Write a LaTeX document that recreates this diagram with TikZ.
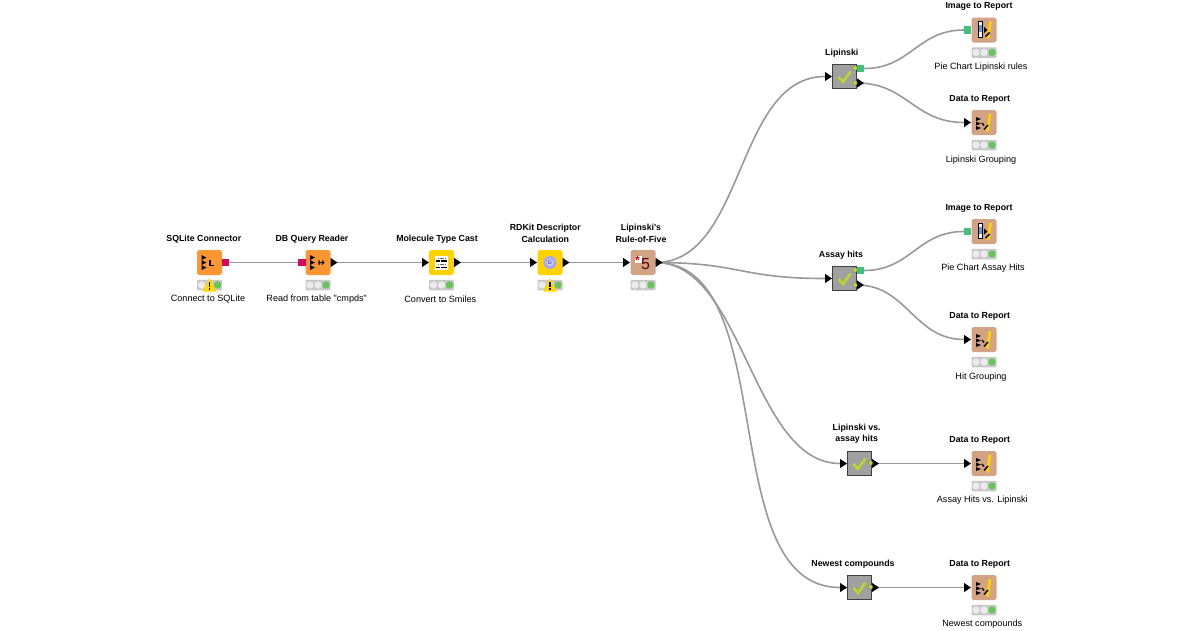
\documentclass[tikz,border=0pt]{standalone}
\usepackage{fontspec}
\usetikzlibrary{backgrounds,calc}
\newfontfamily\labfont{Liberation Sans}
\definecolor{kgray}{HTML}{999999}
\definecolor{korange}{HTML}{FF9632}
\definecolor{kyellow}{HTML}{FFD200}
\definecolor{ktan}{HTML}{D2A384}
\definecolor{kmeta}{HTML}{A0A0A0}
\definecolor{kred}{HTML}{D10A5C}
\definecolor{kgreen}{HTML}{43C07F}
\definecolor{klime}{HTML}{C4D92E}
\definecolor{kcheck}{HTML}{B7D52C}
\definecolor{ktl}{HTML}{C8C8C8}
\definecolor{kok}{HTML}{69C35C}
\definecolor{kwarn}{HTML}{FFD800}
\tikzset{
  x=1pt,y=-1pt,
  ttl/.style={font=\labfont\bfseries\fontsize{8.8}{11.7}\selectfont,align=center,inner sep=0pt,text=black,yshift=-0.5pt},
  sub/.style={font=\labfont\fontsize{9.1}{11.7}\selectfont,align=center,inner sep=0pt,text=black,yshift=-0.5pt},
  icon/.style={minimum size=25pt,inner sep=0pt,rounded corners=1.8pt,draw=none},
  meta/.style={minimum size=24pt,inner sep=0pt,fill=kmeta,draw=black!75,line width=1pt},
  sqport/.style={minimum size=7.2pt,inner sep=0pt,draw=none},
  wire/.style={draw=kgray,line width=1.6pt,line cap=round},
  tlbar/.style={minimum width=25pt,minimum height=10.5pt,inner sep=0pt,fill=ktl,rounded corners=1pt},
  tlamp/.style={circle,minimum size=7.4pt,inner sep=0pt,fill=#1},
}
% triangular data port whose base is at (#1,#2)
\newcommand{\kport}[3]{\coordinate (#3) at (#1,#2);\fill[black] (#1,#2-4.6) -- (#1+7,#2) -- (#1,#2+4.6) -- cycle;}
% node body with status lights
\newcommand{\knode}[5]{%
  \node[icon,fill=#4] (#1) at (#2,#3) {};
  \node[tlbar] (#1-tl) at (#2,#3+22.5) {};
  \node[tlamp=white!92!black] (#1-a) at (#2-8,#3+22.5) {};
  \node[tlamp=white!92!black] (#1-b) at (#2,#3+22.5) {};
  \node[tlamp=kok] (#1-c) at (#2+8,#3+22.5) {};
  \begin{scope}[shift={(#2,#3)}]#5\end{scope}}
\newcommand{\kmeta}[3]{%
  \node[meta] (#1) at (#2,#3) {};
  \draw[kcheck,line width=2.6pt] (#2-6,#3+0.5) -- (#2-1.5,#3+5.5) -- (#2+6,#3-5);}
\newcommand{\kwarn}[2]{%
  \fill[kwarn,rounded corners=0.8pt] (#1-7,#2+6.5) -- (#1,#2-7) -- (#1+7,#2+6.5) -- cycle;
  \fill[black] (#1-0.9,#2-3) rectangle (#1+0.9,#2+2);
  \fill[black] (#1-0.9,#2+3) rectangle (#1+0.9,#2+4.8);}
\newcommand{\kbits}{%
  \fill[black] (-8,-7.5) -- (-3,-5) -- (-8,-2.5) -- cycle;
  \fill[black] (-8,-2.5) -- (-3,0) -- (-8,2.5) -- cycle;
  \fill[black] (-8,2.5) -- (-3,5) -- (-8,7.5) -- cycle;}
\newcommand{\kreport}{%
  \fill[black] (-8,-5.5) -- (-3,-3.5) -- (-8,-1.5) -- cycle;
  \fill[black] (-8,-1) -- (-3,1) -- (-8,3) -- cycle;
  \fill[black] (-8,3.5) -- (-3,5.5) -- (-8,7.5) -- cycle;
  \draw[kyellow,line width=2.8pt] (3.5,9) -- (6,-8.5);
  \draw[black,line width=1.4pt] (-2,0.5) -- (0,3) (0,7) -- (4,2.5);}
\newcommand{\kimgrep}{%
  \fill[black] (-6.5,-9) rectangle (-1,7.5);
  \fill[white] (-5.5,-8) rectangle (-2,6.5);
  \fill[cyan!70!blue!70] (-5.5,-5) rectangle (-2,2);
  \fill[black] (0,-3) -- (3.5,0) -- (0,3) -- cycle;
  \draw[kyellow,line width=2.8pt] (4,8.5) -- (6.5,-8.5);
  \draw[black,line width=1.4pt] (1.5,6.5) -- (5.5,2.5);}
\begin{document}
\begin{tikzpicture}
\useasboundingbox (0,0) rectangle (1200,630);
% ---------- nodes
\knode{sql}{209.5}{262.5}{korange}{\kbits
  \draw[black,line width=1.3pt] (0.5,-3) -- (0.5,3.2) -- (4.5,3.2);}
\node[sqport,fill=kred] (sqlout) at (225.6,262.5) {};
\kwarn{209.5}{285}

\knode{dbq}{318}{262.5}{korange}{\kbits
  \draw[black,line width=1pt] (0,0) -- (6,0) (4,-2) -- (6,0) -- (4,2) (1,-2.5) -- (1,2.5);}
\node[sqport,fill=kred] (dbqin) at (301.9,262.5) {};
\kport{330.5}{262.5}{dbqout}

\knode{mol}{441.5}{262.5}{kyellow}{
  \fill[white] (-6.5,-7) rectangle (6.5,7);
  \draw[black,line width=1.1pt] (-5.5,-1.5) -- (-2,-1.5) (-1,-1.5) -- (5.5,-1.5) (-5.5,5) -- (-2,5) (-1,5) -- (5.5,5);
  \draw[black!60,line width=.8pt,dash pattern=on 1.6pt off 0.8pt] (-4,-4) -- (5,-4) (-4,2) -- (5,2);}
\kport{422}{262.5}{molin}
\kport{454}{262.5}{molout}

\knode{rdk}{550}{262.5}{kyellow}{
  \fill[blue!35!white] (0,0) circle (6.5pt);
  \fill[white!80!blue] (0,0) circle (3.6pt);
  \node[inner sep=0pt,font=\labfont\fontsize{5}{5}\selectfont,text=blue!60!black] (rdk-d) at (0,0) {D};}
\kport{530}{262.5}{rdkin}
\kport{562.5}{262.5}{rdkout}
\kwarn{550}{285}

\knode{lip}{643}{262.5}{ktan}{
  \fill[white] (-8,-7) rectangle (-1,0);
  \node[inner sep=0pt,font=\labfont\fontsize{16}{16}\selectfont,text=black!65!red] (lip-5) at (2.5,1.5) {5};
  \node[inner sep=0pt,font=\labfont\bfseries\fontsize{12}{12}\selectfont,text=red!85!black] (lip-s) at (-5.5,-2.5) {*};}
\kport{623}{262.5}{lipin}
\kport{655.5}{262.5}{lipout}

\kport{825}{76.5}{m1in}
\kmeta{m1}{844.5}{76.5}
\node[sqport,fill=kgreen] (m1a) at (860.5,68.5) {};
\kport{857}{83}{m1b}
\fill[klime,draw=black!60,line width=.3pt] (855,68) circle (2.3pt) (855,83) circle (2.3pt);

\kport{825}{278.5}{m2in}
\kmeta{m2}{844.5}{278.5}
\node[sqport,fill=kgreen] (m2a) at (860.5,270.5) {};
\kport{857}{285}{m2b}
\fill[klime,draw=black!60,line width=.3pt] (855,270) circle (2.3pt) (855,285) circle (2.3pt);

\kport{840}{463.5}{m3in}
\kmeta{m3}{859.5}{463.5}
\kport{872}{463.5}{m3out}
\fill[klime,draw=black!60,line width=.3pt] (870.5,463) circle (2.3pt);

\kport{840}{587.5}{m4in}
\kmeta{m4}{859.5}{587.5}
\kport{872}{587.5}{m4out}
\fill[klime,draw=black!60,line width=.3pt] (870.5,587) circle (2.3pt);

\knode{r1}{984}{30}{ktan}{\kimgrep}
\node[sqport,fill=kgreen] (r1in) at (967.6,30) {};
\knode{r2}{984}{122.5}{ktan}{\kreport}
\kport{964}{122.5}{r2in}
\knode{r3}{984}{231.5}{ktan}{\kimgrep}
\node[sqport,fill=kgreen] (r3in) at (967.6,231.5) {};
\knode{r4}{984}{339.5}{ktan}{\kreport}
\kport{964}{339.5}{r4in}
\knode{r5}{984}{463.5}{ktan}{\kreport}
\kport{964}{463.5}{r5in}
\knode{r6}{984}{587.5}{ktan}{\kreport}
\kport{964}{587.5}{r6in}

% ---------- labels
\node[ttl] (t-sql) at (203.8,238.7) {SQLite Connector};
\node[sub] (s-sql) at (208,298.5) {Connect to SQLite};
\node[ttl] (t-dbq) at (312,238.7) {DB Query Reader};
\node[sub] (s-dbq) at (316.7,298.5) {Read from table "cmpds"};
\node[ttl] (t-mol) at (437,238.7) {Molecule Type Cast};
\node[sub] (s-mol) at (440.3,298.5) {Convert to Smiles};
\node[ttl] (t-rdk) at (545.3,232.5) {RDKit Descriptor\\Calculation};
\node[ttl] (t-lip) at (641,232.5) {Lipinski's\\Rule-of-Five};
\node[ttl] (t-m1) at (841.8,52.5) {Lipinski};
\node[ttl] (t-m2) at (841,254.7) {Assay hits};
\node[ttl] (t-m3) at (856.7,433.3) {Lipinski vs.\\assay hits};
\node[ttl] (t-m4) at (853,563.5) {Newest compounds};
\node[ttl] (t-r1) at (979,6) {Image to Report};
\node[sub] (s-r1) at (981,66.5) {Pie Chart Lipinski rules};
\node[ttl] (t-r2) at (979.7,99) {Data to Report};
\node[sub] (s-r2) at (981,159.5) {Lipinski Grouping};
\node[ttl] (t-r3) at (979,207.5) {Image to Report};
\node[sub] (s-r3) at (983,267.5) {Pie Chart Assay Hits};
\node[ttl] (t-r4) at (979.7,316) {Data to Report};
\node[sub] (s-r4) at (981,376.5) {Hit Grouping};
\node[ttl] (t-r5) at (979.7,440) {Data to Report};
\node[sub] (s-r5) at (982.3,500) {Assay Hits vs. Lipinski};
\node[ttl] (t-r6) at (979.7,564) {Data to Report};
\node[sub] (s-r6) at (982.3,624) {Newest compounds};

% ---------- connectors
\begin{scope}[on background layer]
\fill[white] (0,0) rectangle (1200,630);
\draw[wire] (sqlout) -- (dbqin);
\draw[wire] (dbqout) -- (molin);
\draw[wire] (molout) -- (rdkin);
\draw[wire] (rdkout) -- (lipin);
\draw[wire] (lipout) .. controls +(90,0) and ($(m1in)+(-90,0)$) .. (m1in);
\draw[wire] (lipout) .. controls +(85,0) and ($(m2in)+(-85,0)$) .. (m2in);
\draw[wire] (lipout) .. controls +(88,0) and ($(m3in)+(-88,0)$) .. (m3in);
\draw[wire] (lipout) .. controls +(128,0) and ($(m4in)+(-128,0)$) .. (m4in);
\draw[wire] (m1a) .. controls +(50,0) and ($(r1in)+(-50,0)$) .. (r1in);
\draw[wire] (m1b) .. controls +(50,0) and ($(r2in)+(-50,0)$) .. (r2in);
\draw[wire] (m2a) .. controls +(50,0) and ($(r3in)+(-50,0)$) .. (r3in);
\draw[wire] (m2b) .. controls +(50,0) and ($(r4in)+(-50,0)$) .. (r4in);
\draw[wire] (m3out) -- (r5in);
\draw[wire] (m4out) -- (r6in);
\end{scope}
\end{tikzpicture}
\end{document}
